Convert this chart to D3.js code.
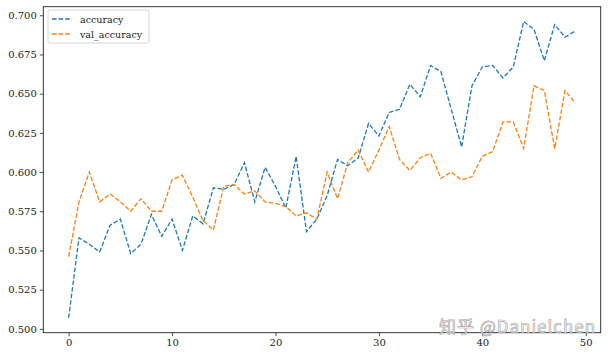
<!DOCTYPE html>
<html>
<head>
<meta charset="utf-8">
<script src="https://cdn.jsdelivr.net/npm/d3@7"></script>
<style>
body{margin:0;background:#fff;}
</style>
</head>
<body>
<script>
// values, one per epoch
var accuracy = [0.507,0.558,0.554,0.549,0.566,0.570,0.548,0.554,0.573,0.559,
  0.570,0.550,0.572,0.567,0.590,0.589,0.592,0.606,0.581,0.603,
  0.591,0.577,0.610,0.562,0.570,0.585,0.608,0.604,0.609,0.631,
  0.623,0.638,0.640,0.656,0.648,0.668,0.664,0.640,0.616,0.655,
  0.667,0.668,0.660,0.667,0.696,0.691,0.671,0.694,0.686,0.690]
var val_accuracy = [0.546,0.581,0.600,0.581,0.586,0.581,0.575,0.583,0.575,0.575,
  0.595,0.598,0.584,0.569,0.563,0.591,0.592,0.586,0.588,0.581,
  0.580,0.578,0.572,0.574,0.570,0.600,0.583,0.606,0.614,0.600,
  0.614,0.629,0.608,0.601,0.609,0.612,0.596,0.600,0.595,0.597,
  0.610,0.613,0.632,0.632,0.615,0.655,0.652,0.615,0.652,0.644]
var xTicks = [0,10,20,30,40,50]
var yTicks = [0.500,0.525,0.550,0.575,0.600,0.625,0.650,0.675,0.700]
var names = ["accuracy","val_accuracy"]
var colors = ["#1f77b4","#ff7f0e"]

var W = 608, H = 356
var mL = 43.3, mR = 600.7, mT = 6.7, mB = 332.7

var svg = d3.select("body").append("svg")
    .attr("width", W)
    .attr("height", H)

var n = accuracy.length
var all = accuracy.concat(val_accuracy)
var lo = d3.min(all), hi = d3.max(all)
var padY = (hi-lo)*0.05, padX = (n-1)*0.05

var x = d3.scaleLinear().domain([-padX, n-1+padX]).range([mL, mR])
var y = d3.scaleLinear().domain([lo-padY, hi+padY]).range([mB, mT])

//axes
var xAxis = svg.append("g")
    .attr("transform","translate(0,"+mB+")")
    .call(d3.axisBottom(x).tickValues(xTicks).tickSize(3.5).tickPadding(3).tickFormat(d3.format("d")))
var yAxis = svg.append("g")
    .attr("transform","translate("+mL+",0)")
    .call(d3.axisLeft(y).tickValues(yTicks).tickSize(3.5).tickPadding(3).tickFormat(d3.format(".3f")))
svg.selectAll(".domain").remove()
svg.selectAll(".tick line").attr("stroke","#222").attr("stroke-width",0.8)
svg.selectAll(".tick text").attr("fill","#222")
    .style("font-size","10px")
    .style("font-family","DejaVu Serif, serif")

//frame
svg.append("rect")
    .attr("x",mL).attr("y",mT)
    .attr("width",mR-mL).attr("height",mB-mT)
    .attr("fill","none").attr("stroke","#222").attr("stroke-width",0.9)

//lines
var line = d3.line().x(function(d,i){return x(i)}).y(function(d){return y(d)})
var series = [accuracy, val_accuracy]
for (var s=0;s<series.length;s++){
  svg.append("path")
    .datum(series[s])
    .attr("d", line)
    .attr("fill","none")
    .attr("stroke",colors[s])
    .attr("stroke-width",1.3)
    .attr("stroke-dasharray","4.6,2")
}

//legend
var lg = svg.append("g").attr("transform","translate(48,10)")
lg.append("rect")
    .attr("width",101).attr("height",33).attr("rx",2)
    .attr("fill","#fff").attr("fill-opacity",0.8)
    .attr("stroke","#ccc").attr("stroke-width",0.8)
for (var s=0;s<names.length;s++){
  lg.append("line")
    .attr("x1",4).attr("x2",24)
    .attr("y1",9+s*15).attr("y2",9+s*15)
    .attr("stroke",colors[s]).attr("stroke-width",1.3)
    .attr("stroke-dasharray","4.6,2")
  lg.append("text")
    .attr("x",32).attr("y",12.5+s*15)
    .style("font-size","9.5px")
    .style("font-family","DejaVu Serif, serif")
    .attr("fill","#222")
    .text(names[s])
}

//watermark
svg.append("text")
    .attr("x",439).attr("y",332.5)
    .attr("textLength",156)
    .style("font-family","Noto Sans CJK SC, sans-serif")
    .style("font-size","17px")
    .attr("fill","#fff").attr("fill-opacity",0.7)
    .attr("stroke","#aaa").attr("stroke-width",0.7)
    .text("知乎 @Danielchen")
</script>
</body>
</html>
